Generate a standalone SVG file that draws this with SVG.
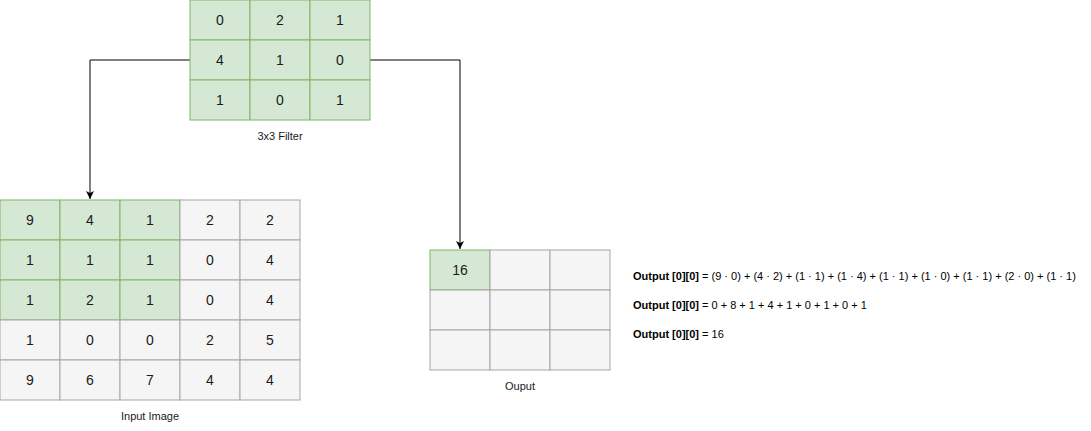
<svg xmlns="http://www.w3.org/2000/svg" width="1091" height="431" viewBox="0 0 1091 431">
<style>
.g{fill:#d5e8d4;stroke:#82b366;stroke-width:1}
.w{fill:#f5f5f5;stroke:#a6a6a6;stroke-width:1}
.t{font-family:"Liberation Sans",Arial,sans-serif;font-size:14px;fill:#1a1a1a;text-anchor:middle;dominant-baseline:central}
.l{font-family:"Liberation Sans",Arial,sans-serif;font-size:11px;fill:#1a1a1a;text-anchor:middle}
.f{font-family:"Liberation Sans",Arial,sans-serif;font-size:11px;fill:#000}
.c{fill:none;stroke:#000;stroke-width:1}
</style>
<defs><marker id="a" markerWidth="8" markerHeight="8" refX="4" refY="7" orient="auto" markerUnits="userSpaceOnUse"><path d="M0,0 L4,8 L8,0 L4,2 Z" transform="rotate(-90 4 4)" fill="#000"/></marker>
<marker id="b" markerWidth="10" markerHeight="10" refX="8" refY="5" orient="auto" markerUnits="userSpaceOnUse"><path d="M0,1 L8,5 L0,9 L2,5 Z" fill="#000"/></marker></defs>
<g id="connectors">
<path class="c" d="M190,60 H90 V199" marker-end="url(#b)"/>
<path class="c" d="M370,60 H460 V249" marker-end="url(#b)"/>
</g>
<g id="filter">
<rect class="g" x="190" y="0" width="60" height="40"/><rect class="g" x="250" y="0" width="60" height="40"/><rect class="g" x="310" y="0" width="60" height="40"/>
<rect class="g" x="190" y="40" width="60" height="40"/><rect class="g" x="250" y="40" width="60" height="40"/><rect class="g" x="310" y="40" width="60" height="40"/>
<rect class="g" x="190" y="80" width="60" height="40"/><rect class="g" x="250" y="80" width="60" height="40"/><rect class="g" x="310" y="80" width="60" height="40"/>
<text class="t" x="220" y="20">0</text><text class="t" x="280" y="20">2</text><text class="t" x="340" y="20">1</text>
<text class="t" x="220" y="60">4</text><text class="t" x="280" y="60">1</text><text class="t" x="340" y="60">0</text>
<text class="t" x="220" y="100">1</text><text class="t" x="280" y="100">0</text><text class="t" x="340" y="100">1</text>
<text class="l" x="280" y="140">3x3 Filter</text>
</g>
<g id="input">
<rect class="g" x="0" y="200" width="60" height="40"/><rect class="g" x="60" y="200" width="60" height="40"/><rect class="g" x="120" y="200" width="60" height="40"/><rect class="w" x="180" y="200" width="60" height="40"/><rect class="w" x="240" y="200" width="60" height="40"/>
<rect class="g" x="0" y="240" width="60" height="40"/><rect class="g" x="60" y="240" width="60" height="40"/><rect class="g" x="120" y="240" width="60" height="40"/><rect class="w" x="180" y="240" width="60" height="40"/><rect class="w" x="240" y="240" width="60" height="40"/>
<rect class="g" x="0" y="280" width="60" height="40"/><rect class="g" x="60" y="280" width="60" height="40"/><rect class="g" x="120" y="280" width="60" height="40"/><rect class="w" x="180" y="280" width="60" height="40"/><rect class="w" x="240" y="280" width="60" height="40"/>
<rect class="w" x="0" y="320" width="60" height="40"/><rect class="w" x="60" y="320" width="60" height="40"/><rect class="w" x="120" y="320" width="60" height="40"/><rect class="w" x="180" y="320" width="60" height="40"/><rect class="w" x="240" y="320" width="60" height="40"/>
<rect class="w" x="0" y="360" width="60" height="40"/><rect class="w" x="60" y="360" width="60" height="40"/><rect class="w" x="120" y="360" width="60" height="40"/><rect class="w" x="180" y="360" width="60" height="40"/><rect class="w" x="240" y="360" width="60" height="40"/>
<text class="t" x="30" y="220">9</text><text class="t" x="90" y="220">4</text><text class="t" x="150" y="220">1</text><text class="t" x="210" y="220">2</text><text class="t" x="270" y="220">2</text>
<text class="t" x="30" y="260">1</text><text class="t" x="90" y="260">1</text><text class="t" x="150" y="260">1</text><text class="t" x="210" y="260">0</text><text class="t" x="270" y="260">4</text>
<text class="t" x="30" y="300">1</text><text class="t" x="90" y="300">2</text><text class="t" x="150" y="300">1</text><text class="t" x="210" y="300">0</text><text class="t" x="270" y="300">4</text>
<text class="t" x="30" y="340">1</text><text class="t" x="90" y="340">0</text><text class="t" x="150" y="340">0</text><text class="t" x="210" y="340">2</text><text class="t" x="270" y="340">5</text>
<text class="t" x="30" y="380">9</text><text class="t" x="90" y="380">6</text><text class="t" x="150" y="380">7</text><text class="t" x="210" y="380">4</text><text class="t" x="270" y="380">4</text>
<text class="l" x="150" y="420">Input Image</text>
</g>
<g id="output">
<rect class="g" x="430" y="250" width="60" height="40"/><rect class="w" x="490" y="250" width="60" height="40"/><rect class="w" x="550" y="250" width="60" height="40"/>
<rect class="w" x="430" y="290" width="60" height="40"/><rect class="w" x="490" y="290" width="60" height="40"/><rect class="w" x="550" y="290" width="60" height="40"/>
<rect class="w" x="430" y="330" width="60" height="40"/><rect class="w" x="490" y="330" width="60" height="40"/><rect class="w" x="550" y="330" width="60" height="40"/>
<text class="t" x="460" y="270">16</text>
<text class="l" x="520" y="390">Ouput</text>
</g>
<g id="formula">
<text class="f" x="633" y="280"><tspan font-weight="bold">Output [0][0]</tspan> = (9 · 0) + (4 · 2) + (1 · 1) + (1 · 4) + (1 · 1) + (1 · 0) + (1 · 1) + (2 · 0) + (1 · 1)</text>
<text class="f" x="633" y="309"><tspan font-weight="bold">Output [0][0]</tspan> = 0 + 8 + 1 + 4 + 1 + 0 + 1 + 0 + 1</text>
<text class="f" x="633" y="338"><tspan font-weight="bold">Output [0][0]</tspan> = 16</text>
</g>
</svg>
